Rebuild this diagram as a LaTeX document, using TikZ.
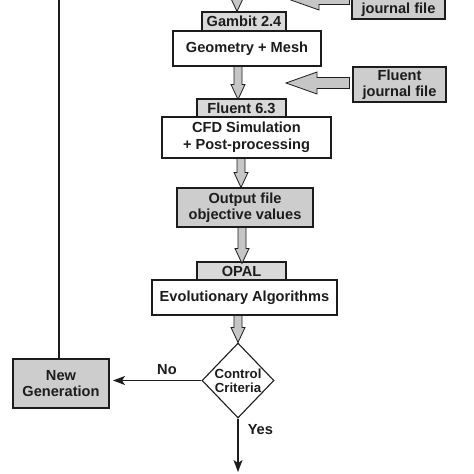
\documentclass[tikz,border=0pt]{standalone}
\usepackage{fontspec}
\setmainfont{Liberation Sans}
\usetikzlibrary{shapes.geometric,arrows.meta,calc}
\definecolor{tabgray}{HTML}{D9D9D9}
\definecolor{boxgray}{HTML}{CDCDCD}
\definecolor{arrgray}{HTML}{C6C6C6}
\definecolor{inkc}{HTML}{1C1C1C}
\begin{document}
\begin{tikzpicture}[x=1pt,y=-1pt,
  every node/.style={font=\bfseries\fontsize{14.6}{16.5}\selectfont, text=inkc, align=center, inner sep=0pt},
  wbox/.style={draw=inkc, line width=1.1pt, fill=white, rectangle},
  gbox/.style={draw=inkc, line width=1.1pt, fill=boxgray, rectangle},
  tabbox/.style={draw=inkc, line width=1.1pt, fill=tabgray, rectangle},
  fatv/.style={draw=inkc, line width=0.8pt, fill=arrgray, line join=miter,
    to path={let \p1=(\tikztostart), \p2=(\tikztotarget) in
      (\x1-4pt,\y1) -- (\x1-4pt,\y2+15pt) -- (\x1-7pt,\y2+15pt) -- (\x1,\y2)
      -- (\x1+7pt,\y2+15pt) -- (\x1+4pt,\y2+15pt) -- (\x1+4pt,\y1) -- cycle}},
  fath/.style={draw=inkc, line width=0.8pt, fill=arrgray, line join=miter,
    to path={let \p1=(\tikztostart), \p2=(\tikztotarget) in
      (\x1,\y2-5.5pt) -- (\x2+31pt,\y2-5.5pt) -- (\x2+31pt,\y2-11pt) -- (\x2,\y2)
      -- (\x2+31pt,\y2+11pt) -- (\x2+31pt,\y2+5.5pt) -- (\x1,\y2+5.5pt) -- cycle}},
  blk/.style={draw=inkc, line width=1.5pt, -{Stealth[length=12pt,width=9pt,inset=3pt]}},
  lbl/.style={font=\bfseries\fontsize{14.6}{16.5}\selectfont}
]
\useasboundingbox (0,0) rectangle (474,474);
\clip (0,0) rectangle (474,474);
\fill[white] (0,0) rectangle (474,474);

% nodes
\node[gbox, minimum width=93pt, minimum height=35pt] (topj) at (398.5,1.5) {};
\node (topjt) at (398.5,9.5) {journal file};
\node[tabbox, minimum width=84pt, minimum height=19pt] (gambit) at (244,21.5) {Gambit 2.4};
\node[wbox, minimum width=148pt, minimum height=35pt] (geom) at (247,48.5) {Geometry + Mesh};
\node[gbox, minimum width=93pt, minimum height=35pt] (fluentj) at (399.5,84.5) {Fluent\\journal file};
\node[tabbox, minimum width=89pt, minimum height=18pt] (fluent) at (241.5,108) {Fluent 6.3};
\node[wbox, minimum width=169pt, minimum height=41pt] (cfd) at (246.5,137.5) {CFD Simulation\\+ Post-processing};
\node[gbox, minimum width=136pt, minimum height=39pt] (outp) at (245,207.5) {Output file\\objective values};
\node[tabbox, minimum width=89pt, minimum height=18pt] (opal) at (241.5,271) {OPAL};
\node[wbox, minimum width=185pt, minimum height=35pt] (evo) at (244.5,297.5) {Evolutionary Algorithms};
\node[diamond, draw=inkc, line width=1.1pt, fill=white, minimum width=72pt, minimum height=75pt, inner sep=0pt] (dia) at (238,380.5) {};
\node[font=\bfseries\fontsize{13.2}{14}\selectfont] (ctrl) at (dia.center) {Control\\Criteria};
\node[gbox, minimum width=96pt, minimum height=49pt] (newgen) at (61,383.5) {New\\Generation};

% helper coordinates
\coordinate (a1) at (237,0);
\coordinate (a2) at (238,0);
\coordinate (a3) at (241,0);
\coordinate (a4) at (242,0);
\coordinate (topstart) at (237,-20);
\coordinate (tjtip) at (288,-1);
\coordinate (fjtip) at (286,83);
\coordinate (ngx) at (113,0);
\coordinate (yesend) at (238,472);
\coordinate (ltop) at (59,-2);

% fat arrows
\path[fatv] (topstart) to (gambit.north -| a1);
\path[fatv] (geom.south -| a2) to ([yshift=-1pt]fluent.north -| a2);
\path[fatv] (cfd.south -| a3) to (outp.north -| a3);
\path[fatv] (outp.south -| a4) to ([yshift=-2pt]opal.north -| a4);
\path[fatv] (evo.south -| a2) to (dia.north);
\path[fath] ([xshift=-2pt]topj.west) to (tjtip);
\path[fath] ([xshift=-3pt]fluentj.west) to (fjtip);

% black connectors
\draw[blk] (dia.west) -- (dia.west -| ngx) node[lbl, pos=0.39, above=5pt] (nolbl) {No};
\draw[blk] (dia.south) -- (yesend) node[lbl, pos=0.2, right=9pt] (yeslbl) {Yes};
\draw[draw=inkc, line width=1.5pt] (newgen.north -| ltop) -- (ltop);
\end{tikzpicture}
\end{document}
